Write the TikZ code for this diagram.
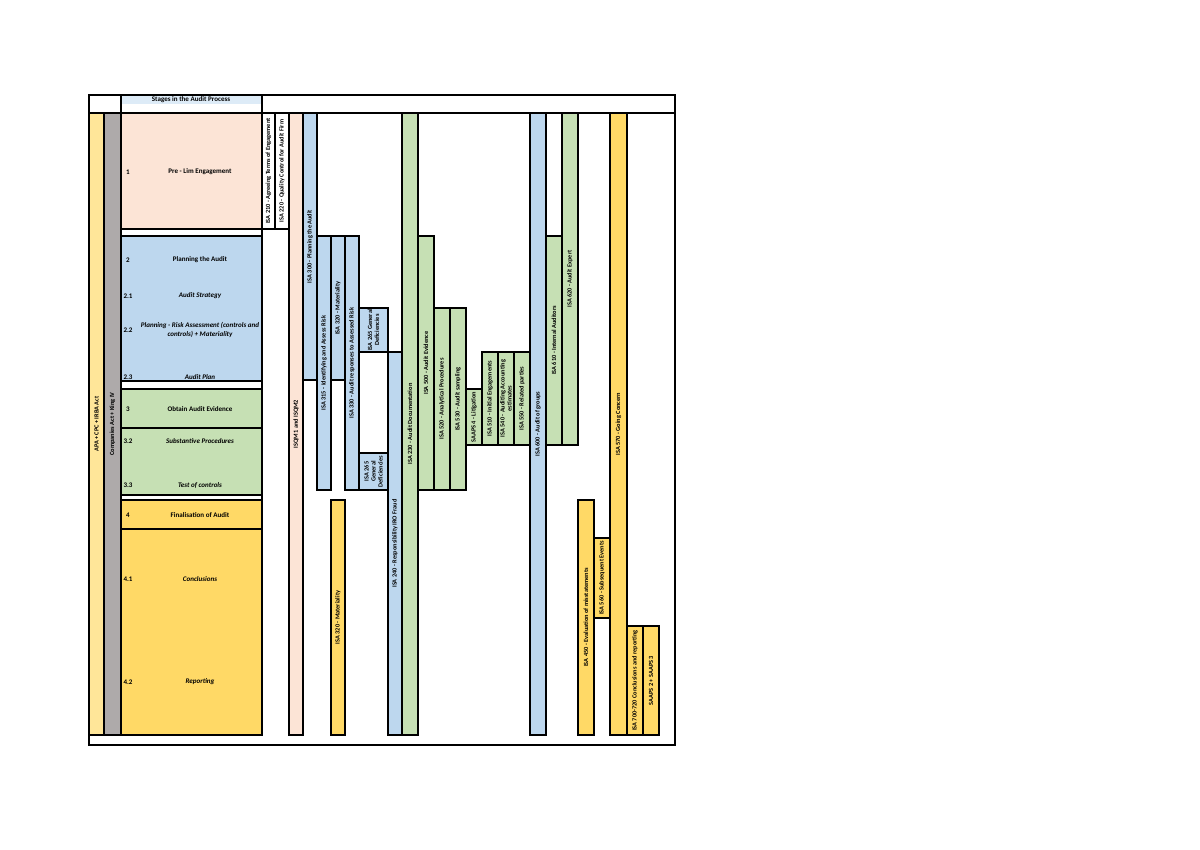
\documentclass[tikz,border=0pt]{standalone}
\usepackage{xcolor}
\usepackage{fontspec}
\setmainfont{Carlito}
\usetikzlibrary{positioning}
\definecolor{pinkfill}{HTML}{FCE4D6}
\definecolor{bluefill}{HTML}{BDD7EE}
\definecolor{greenfill}{HTML}{C6E0B4}
\definecolor{goldfill}{HTML}{FFD966}
\definecolor{lightgold}{HTML}{FFE699}
\definecolor{greyfill}{HTML}{AEAAAA}
\definecolor{headfill}{HTML}{DDEBF7}

% one vertical standard bar: name, x1, y1, x2, y2, colour, label
\newcommand{\isabar}[7]{%
  \draw[bar, fill=#6] (#2,#3) rectangle (#4,#5)
    node[midway, rotate=90, tiny, align=center] (#1) {#7};}

\begin{document}
\begin{tikzpicture}[
    x=0.02cm, y=-0.02cm,
    bar/.style={draw=black, line width=0.9pt},
    tiny/.style={font=\fontsize{3.6}{4}\selectfont\bfseries, inner sep=0.5pt},
    stage/.style={font=\fontsize{4}{5}\selectfont\bfseries, inner sep=0.5pt},
    sub/.style={font=\fontsize{4}{5}\selectfont\bfseries\itshape, inner sep=0.5pt, align=center}
]
\useasboundingbox (0,0) rectangle (1200,849);

% frame and header
\draw[line width=1pt] (89,95) rectangle (675,745);
\draw[line width=0.6pt] (89,113) -- (675,113);
\draw[line width=0.6pt] (121,95) -- (121,113) (262,95) -- (262,113);
\fill[headfill] (122,96) rectangle (261,104);
\node[stage] (head) at (191,100) {Stages in the Audit Process};

% left side bars
\isabar{law}{89}{113}{104}{735}{lightgold}{APA + CPC + IRBA Act}
\isabar{act}{104}{113}{121}{735}{greyfill}{Companies Act + King IV}

% stages
\draw[bar, fill=pinkfill] (121,113) rectangle (262,229);
\node[stage] (s1n) at (128,172) {1};
\node[stage] (s1) at (200,172) {Pre - Lim Engagement};
\draw[bar] (121,229) rectangle (262,236);
\draw[bar, fill=bluefill] (121,236) rectangle (262,381);
\node[stage] (s2n) at (128,260) {2};
\node[stage] (s2) at (200,260) {Planning the Audit};
\node[stage] (s21n) at (128,296) {2.1};
\node[sub] (s21) at (200,296) {Audit Strategy};
\node[stage] (s22n) at (128,330) {2.2};
\node[sub] (s22) at (200,330) {Planning - Risk Assessment (controls and\\controls) + Materiality};
\node[stage] (s23n) at (128,377) {2.3};
\node[sub] (s23) at (200,377) {Audit Plan};
\draw[bar] (121,381) rectangle (262,389);
\draw[bar, fill=greenfill] (121,389) rectangle (262,428);
\node[stage] (s3n) at (128,409) {3};
\node[stage] (s3) at (200,409) {Obtain Audit Evidence};
\draw[bar, fill=greenfill] (121,428) rectangle (262,495);
\node[stage] (s32n) at (128,441) {3.2};
\node[sub] (s32) at (200,441) {Substantive Procedures};
\node[stage] (s33n) at (128,485) {3.3};
\node[sub] (s33) at (200,485) {Test of controls};
\draw[bar] (121,495) rectangle (262,500);
\draw[bar, fill=goldfill] (121,500) rectangle (262,529);
\node[stage] (s4n) at (128,515) {4};
\node[stage] (s4) at (200,515) {Finalisation of Audit};
\draw[bar, fill=goldfill] (121,529) rectangle (262,735);
\node[stage] (s41n) at (128,579) {4.1};
\node[sub] (s41) at (200,579) {Conclusions};
\node[stage] (s42n) at (128,682) {4.2};
\node[sub] (s42) at (200,682) {Reporting};

% standards
\isabar{isa210}{262}{113}{275}{229}{white}{ISA 210 - Agreeing Terms of Engagement}
\isabar{isa220}{275}{113}{289}{229}{white}{ISA 220 - Quality Control for Audit Firm}
\isabar{isqm}{289}{113}{303}{735}{pinkfill}{ISQM1 and ISQM2}
\isabar{isa300}{303}{113}{317}{380}{bluefill}{ISA 300 - Planning the Audit}
\isabar{isa315}{317}{236}{331}{490}{bluefill}{ISA 315 - Identifying and Assess Risk}
\isabar{isa320}{331}{236}{345}{380}{bluefill}{ISA 320 - Materiality}
\isabar{isa330}{345}{236}{359}{490}{bluefill}{ISA 330 - Audit responses to Assessed Risk}
\isabar{isa265a}{359}{308}{388}{352}{bluefill}{ISA 265 General\\Deficiencies}
\draw[bar] (359,352) rectangle (388,453);
\isabar{isa265b}{359}{453}{388}{490}{bluefill}{ISA 265\\General\\Deficiencies}
\isabar{isa240}{388}{352}{402}{735}{bluefill}{ISA 240 - Responsibility IRO Fraud}
\isabar{isa320b}{331}{500}{345}{735}{goldfill}{ISA 320 - Materiality}
\isabar{isa230}{402}{113}{418}{735}{greenfill}{ISA 230 - Audit Documentation}
\isabar{isa500}{418}{236}{434}{490}{greenfill}{ISA 500 - Audit Evidence}
\isabar{isa520}{434}{308}{450}{490}{greenfill}{ISA 520 - Analytical Procedures}
\isabar{isa530}{450}{308}{466}{490}{greenfill}{ISA 530 - Audit sampling}
\isabar{saaps4}{466}{389}{482}{445}{greenfill}{SAAPS 4 - Litigation}
\isabar{isa510}{482}{352}{498}{445}{greenfill}{ISA 510 - Initial Engagements}
\isabar{isa540}{498}{352}{514}{445}{greenfill}{ISA 540 - Auditing Accounting\\estimates}
\isabar{isa550}{514}{352}{530}{445}{greenfill}{ISA 550 - Related parties}
\isabar{isa600}{530}{113}{546}{735}{bluefill}{ISA 600 - Audit of groups}
\isabar{isa610}{546}{236}{562}{445}{greenfill}{ISA 610 - Internal Auditors}
\isabar{isa620}{562}{113}{578}{445}{greenfill}{ISA 620 - Audit Expert}
\isabar{isa450}{578}{500}{594}{735}{goldfill}{ISA 450 - Evaluation of misstatements}
\isabar{isa560}{594}{538}{610}{618}{goldfill}{ISA 560 - Subsequent Events}
\isabar{isa570}{610}{113}{627}{735}{goldfill}{ISA 570 - Going Concern}
\isabar{isa700}{627}{626}{643}{735}{goldfill}{ISA 700-720 Conclusions and reporting}
\isabar{saaps2}{643}{626}{659}{735}{goldfill}{SAAPS 2 + SAAPS 3}

\end{tikzpicture}
\end{document}
